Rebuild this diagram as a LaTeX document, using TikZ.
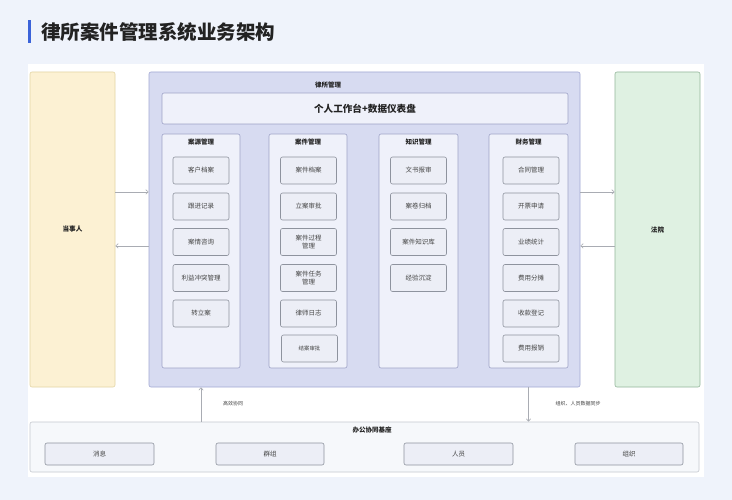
\documentclass[tikz,border=0pt]{standalone}
\usepackage{fontspec}
\setmainfont{Noto Sans CJK SC}
\usetikzlibrary{calc,arrows.meta}
\definecolor{bg}{HTML}{EFF3FB}
\definecolor{titlebar}{HTML}{3B63D9}
\definecolor{partyfill}{HTML}{FCF1D3}
\definecolor{partyline}{HTML}{E3D5A4}
\definecolor{firmfill}{HTML}{D7DBF1}
\definecolor{firmline}{HTML}{A3A8D4}
\definecolor{courtfill}{HTML}{DFF1E2}
\definecolor{courtline}{HTML}{93B69B}
\definecolor{colfill}{HTML}{EFF1FA}
\definecolor{colline}{HTML}{9DA2C6}
\definecolor{itemfill}{HTML}{ECEEF6}
\definecolor{itemline}{HTML}{8E939E}
\definecolor{basefill}{HTML}{F6F8FB}
\definecolor{baseline}{HTML}{C5C8CF}
\definecolor{linkgray}{HTML}{A9ACB3}
\definecolor{textdark}{HTML}{222222}
\definecolor{textitem}{HTML}{444444}
\tikzset{
  box/.style={draw, rounded corners=2pt, inner sep=0pt, line width=0.6pt},
  panel/.style={box, minimum width=85pt, minimum height=315pt,
    font=\bfseries\fontsize{6.6}{8}\selectfont, text=textdark},
  column/.style={box, fill=colfill, draw=colline, minimum width=78pt,
    minimum height=234pt},
  head/.style={font=\bfseries\fontsize{6.5}{8}\selectfont, text=textdark},
  item/.style={box, fill=itemfill, draw=itemline, minimum width=56pt,
    minimum height=27pt, align=center, text=textitem,
    font=\fontsize{6.5}{8.5}\selectfont},
  baseitem/.style={box, fill=itemfill, draw=itemline, minimum width=109pt,
    minimum height=22pt, text=textitem, font=\fontsize{6.5}{8}\selectfont},
  link/.style={draw=linkgray, line width=0.6pt,
    -{Straight Barb[length=2.5pt,width=4.5pt]}},
  note/.style={text=textitem, font=\fontsize{5}{6}\selectfont}
}
\begin{document}
\begin{tikzpicture}[x=1pt,y=-1pt]
  \fill[bg] (0,0) rectangle (732,500);
  \useasboundingbox (0,0) rectangle (732,500);
  \fill[white] (28,64) rectangle (704,477);
  % title
  \fill[titlebar] (28,20) rectangle (31,43);
  \node[anchor=west, inner sep=0pt, text=textdark,
    font=\bfseries\fontsize{19.5}{22}\selectfont] (title) at (41,32)
    {律所案件管理系统业务架构};
  % outer panels
  \node[panel, fill=partyfill, draw=partyline] (party) at (72.5,229.5) {当事人};
  \node[box, fill=firmfill, draw=firmline, minimum width=431pt,
    minimum height=315pt] (firm) at (364.5,229.5) {};
  \node[panel, fill=courtfill, draw=courtline] (court) at (657.5,229.5) {法院};
  \node[head] (firmhead) at (328,85) {律所管理};
  \node[box, fill=colfill, draw=colline, minimum width=406pt, minimum height=31pt,
    text=textdark, font=\bfseries\fontsize{9.6}{11}\selectfont] (desk)
    at (365,108.5) {个人工作台+数据仪表盘};
  % columns
  \node[column] (c1) at (201,251) {};
  \node[column] (c2) at (308,251) {};
  \node[column, minimum width=79pt] (c3) at (418.5,251) {};
  \node[column, minimum width=79pt] (c4) at (528.5,251) {};
  \node[head] (h1) at (201,142) {案源管理};
  \node[head] (h2) at (308,142) {案件管理};
  \node[head] (h3) at (418.5,142) {知识管理};
  \node[head] (h4) at (528.5,142) {财务管理};
  % 案源管理
  \node[item] (a1) at (201,170.5) {客户档案};
  \node[item] (a2) at (201,206.5) {跟进记录};
  \node[item] (a3) at (201,242) {案情咨询};
  \node[item] (a4) at (201,278) {利益冲突管理};
  \node[item] (a5) at (201,313.5) {转立案};
  % 案件管理
  \node[item] (b1) at (308.5,170.5) {案件档案};
  \node[item] (b2) at (308.5,206.5) {立案审批};
  \node[item] (b3) at (308.5,242) {案件过程\\管理};
  \node[item] (b4) at (308.5,278) {案件任务\\管理};
  \node[item] (b5) at (308.5,313.5) {律师日志};
  \node[item, font=\fontsize{5.4}{7}\selectfont] (b6) at (309.5,348.5) {结案审批};
  % 知识管理
  \node[item] (k1) at (418.5,170.5) {文书报审};
  \node[item] (k2) at (418.5,206.5) {案卷归档};
  \node[item] (k3) at (418.5,242) {案件知识库};
  \node[item] (k4) at (418.5,278) {经验沉淀};
  % 财务管理
  \node[item] (f1) at (531,170.5) {合同管理};
  \node[item] (f2) at (531,206.5) {开票申请};
  \node[item] (f3) at (531,242) {业绩统计};
  \node[item] (f4) at (531,278) {费用分摊};
  \node[item] (f5) at (531,313.5) {收款登记};
  \node[item] (f6) at (531,348.5) {费用报销};
  % base
  \node[box, fill=basefill, draw=baseline, minimum width=669pt,
    minimum height=50pt] (base) at (364.5,447) {};
  \node[head] (basehead) at (372,430) {办公协同基座};
  \node[baseitem] (m1) at (99.5,454) {消息};
  \node[baseitem, minimum width=108pt] (m2) at (270,454) {群组};
  \node[baseitem] (m3) at (458.5,454) {人员};
  \node[baseitem, minimum width=108pt] (m4) at (629,454) {组织};
  % links
  \draw[link] ($(party.north east)!0.381!(party.south east)$)
    -- ($(firm.north west)!0.381!(firm.south west)$);
  \draw[link] ($(firm.north west)!0.552!(firm.south west)$)
    -- ($(party.north east)!0.552!(party.south east)$);
  \draw[link] ($(firm.north east)!0.381!(firm.south east)$)
    -- ($(court.north west)!0.381!(court.south west)$);
  \draw[link] ($(court.north west)!0.552!(court.south west)$)
    -- ($(firm.north east)!0.552!(firm.south east)$);
  \draw[link] (c1 |- base.north) -- (c1 |- firm.south);
  \draw[link] (c4 |- firm.south) -- (c4 |- base.north);
  \node[note] (n1) at (233,404) {高效协同};
  \node[note] (n2) at (578,404) {组织、人员数据同步};
\end{tikzpicture}
\end{document}
